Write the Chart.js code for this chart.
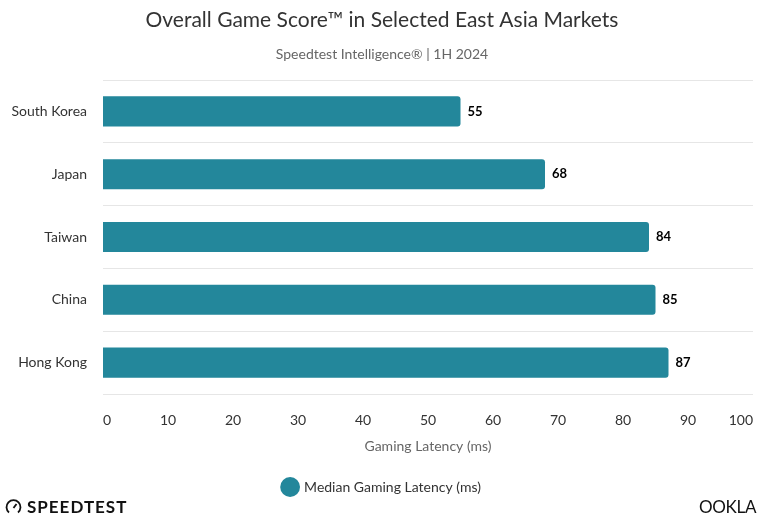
<!DOCTYPE html>
<html>
<head>
<meta charset="utf-8">
<script src="https://cdn.jsdelivr.net/npm/chart.js@4.4.1/dist/chart.umd.min.js"></script>
<style>
  html, body { margin: 0; padding: 0; background: #ffffff; }
  #wrap { position: relative; width: 764px; height: 519px; }
  canvas { display: block; }
  .logo { position: absolute; font-family: Lato, "Open Sans", sans-serif; color: #111; }
  #speedtest { left: 5px; top: 496px; font-size: 17px; font-weight: 700; letter-spacing: 1px; display: flex; align-items: center; }
  #speedtest svg { margin-right: 5px; }
  #ookla { left: 699px; top: 496px; font-size: 17px; font-weight: 400; letter-spacing: -0.3px; }
</style>
</head>
<body>
<div id="wrap">
  <canvas id="c" width="764" height="519"></canvas>
  <div class="logo" id="speedtest"><svg width="17" height="17" viewBox="0 0 17 17"><path d="M4 14.5 A7 7 0 1 1 13 14.5" fill="none" stroke="#111" stroke-width="1.8"/><line x1="8.5" y1="10" x2="11.5" y2="6" stroke="#111" stroke-width="1.8"/></svg>SPEEDTEST</div>
  <div class="logo" id="ookla">OOKLA</div>
</div>
<script>
const categories = ["South Korea", "Japan", "Taiwan", "China", "Hong Kong"];
const latencyValues = [55, 68, 84, 85, 87];
const seriesName = "Median Gaming Latency (ms)";
const titleText = "Overall Game Score\u2122 in Selected East Asia Markets";
const subtitleText = "Speedtest Intelligence\u00ae | 1H 2024";
const xAxisTitle = "Gaming Latency (ms)";
const xMin = 0, xMax = 100, xStep = 10;

const FONT = "'Source Sans Pro', Lato, 'Open Sans', sans-serif";
const BAR_COLOR = "#23879b";

const valueLabels = {
  id: "valueLabels",
  afterDatasetsDraw(chart) {
    const ctx = chart.ctx;
    ctx.save();
    ctx.font = "bold 13px " + FONT;
    ctx.fillStyle = "#000000";
    ctx.textAlign = "left";
    ctx.textBaseline = "middle";
    chart.data.datasets.forEach((ds, di) => {
      chart.getDatasetMeta(di).data.forEach((el, i) => {
        ctx.fillText(String(ds.data[i]), el.x + 7, el.y);
      });
    });
    ctx.restore();
  }
};

new Chart(document.getElementById("c"), {
  type: "bar",
  data: {
    labels: categories,
    datasets: [{
      label: seriesName,
      data: latencyValues,
      backgroundColor: BAR_COLOR,
      borderColor: BAR_COLOR,
      borderWidth: 0,
      borderRadius: 3,
      barPercentage: 0.48,
      categoryPercentage: 1
    }]
  },
  options: {
    indexAxis: "y",
    responsive: false,
    animation: false,
    devicePixelRatio: 1,
    layout: { padding: { left: 0, right: 0, top: 0, bottom: 15 } },
    plugins: {
      title: {
        display: true,
        text: titleText,
        color: "#333333",
        font: { family: FONT, size: 21, weight: "normal" },
        padding: { top: 8, bottom: 0 }
      },
      subtitle: {
        display: true,
        text: subtitleText,
        color: "#666666",
        font: { family: FONT, size: 14, weight: "normal" },
        padding: { top: 12.4, bottom: 17.6 }
      },
      legend: {
        display: true,
        position: "bottom",
        labels: {
          usePointStyle: true,
          pointStyle: "circle",
          boxWidth: 14,
          boxHeight: 14,
          color: "#333333",
          font: { family: FONT, size: 14 },
          padding: 10
        }
      },
      tooltip: { enabled: false }
    },
    scales: {
      x: {
        type: "linear",
        min: xMin,
        max: xMax,
        grid: { display: false, drawTicks: false },
        border: { display: false },
        ticks: {
          stepSize: xStep,
          color: "#333333",
          font: { family: FONT, size: 14 },
          padding: 17.6,
          align: "inner",
          maxRotation: 0
        },
        title: {
          display: true,
          text: xAxisTitle,
          color: "#666666",
          font: { family: FONT, size: 14 },
          padding: { top: 9.2, bottom: 15.6 }
        },
        afterFit(scale) { scale.height = 76; scale.paddingRight = 11; scale.paddingLeft = 0; }
      },
      y: {
        grid: { display: true, offset: true, color: "#e6e6e6", lineWidth: 1, drawTicks: false },
        border: { display: false },
        ticks: {
          color: "#333333",
          font: { family: FONT, size: 14 },
          padding: 16
        },
        afterFit(scale) { scale.width = 103; scale.paddingTop = 0; scale.paddingBottom = 0; }
      }
    }
  },
  plugins: [valueLabels]
});
</script>
</body>
</html>
